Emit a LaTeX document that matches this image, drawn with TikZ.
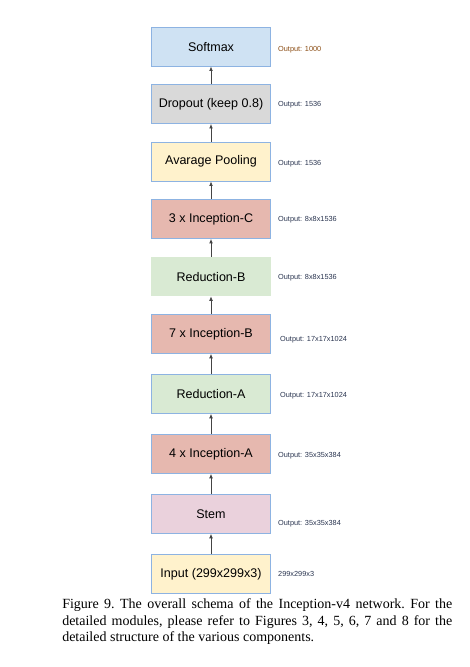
\documentclass[tikz,border=0pt]{standalone}
\usepackage{fontspec}
\setmainfont{Liberation Sans}
\newfontfamily\capfont{Liberation Serif}
\usetikzlibrary{arrows.meta, positioning}

\definecolor{boxline}{HTML}{8DB3E2}
\definecolor{softfill}{HTML}{CFE2F3}
\definecolor{dropfill}{HTML}{D9D9D9}
\definecolor{yellowfill}{HTML}{FFF2CC}
\definecolor{incfill}{HTML}{E6B8AF}
\definecolor{redfill}{HTML}{D9EAD3}
\definecolor{stemfill}{HTML}{EAD1DC}
\definecolor{outtext}{HTML}{2A3550}
\definecolor{browntext}{HTML}{8A4B12}
\definecolor{arrowgray}{HTML}{444444}

\begin{document}
\begin{tikzpicture}[
node distance=13.5pt,
box/.style={draw=boxline, line width=0.6pt, rectangle, align=center, minimum width=88.8pt, minimum height=29pt, inner sep=0pt, font=\fontsize{9.4}{11}\selectfont},
outlabel/.style={right=5.5pt of #1, anchor=west, inner sep=0pt, text=outtext, font=\fontsize{5.5}{6}\selectfont},
arrow/.style={-{Latex[length=3.4pt,width=2.8pt]}, line width=0.6pt, draw=arrowgray}
]

\useasboundingbox (0,0) rectangle (351.75pt,-500.25pt);

% ---------- NETWORK BLOCKS ----------

\node[box, fill=yellowfill] (input) at (158.25pt,-430.5pt)
{Input (299x299x3)};

\node[box, fill=stemfill, above=15.4pt of input] (stem)
{Stem};

\node[box, fill=incfill, above=15.4pt of stem] (incA)
{4 x Inception-A};

\node[box, fill=redfill, above=15.4pt of incA] (redA)
{Reduction-A};

\node[box, fill=incfill, above=15.4pt of redA] (incB)
{7 x Inception-B};

\node[box, fill=redfill, draw=redfill, above=of incB] (redB)
{Reduction-B};

\node[box, fill=incfill, above=of redB] (incC)
{3 x Inception-C};

\node[box, fill=yellowfill, above=of incC] (pool)
{Avarage Pooling};

\node[box, fill=dropfill, above=of pool] (dropout)
{Dropout (keep 0.8)};

\node[box, fill=softfill, above=of dropout] (softmax)
{Softmax};

% ---------- OUTPUT SIZES ----------

\node[outlabel=input] (inputout) {299x299x3};
\node[outlabel=stem, yshift=-7.5pt] (stemout) {Output: 35x35x384};
\node[outlabel=incA, yshift=-1.5pt] (incAout) {Output: 35x35x384};
\node[outlabel=redA, xshift=1.5pt, yshift=-1pt] (redAout) {Output: 17x17x1024};
\node[outlabel=incB, xshift=1.5pt, yshift=-4pt] (incBout) {Output: 17x17x1024};
\node[outlabel=redB, yshift=-1.2pt] (redBout) {Output: 8x8x1536};
\node[outlabel=incC, yshift=-0.5pt] (incCout) {Output: 8x8x1536};
\node[outlabel=pool, yshift=-1.5pt] (poolout) {Output: 1536};
\node[outlabel=dropout, yshift=-0.8pt] (dropoutout) {Output: 1536};
\node[outlabel=softmax, yshift=-2.3pt, text=browntext] (softmaxout) {Output: 1000};

% ---------- CAPTION ----------

\node[anchor=north west, inner sep=0pt, text width=292.5pt, align=justify,
font=\capfont\fontsize{10.5}{12.4}\selectfont\frenchspacing] (caption) at (46.5pt,-449pt)
{Figure 9. The overall schema of the Inception-v4 network. For the\linebreak
detailed modules, please refer to Figures 3, 4, 5, 6, 7 and 8 for the\linebreak
detailed structure of the various components.};

% ---------- ARROWS ----------

\draw[arrow] (input) -- (stem);
\draw[arrow] (stem) -- (incA);
\draw[arrow] (incA) -- (redA);
\draw[arrow] (redA) -- (incB);
\draw[arrow] (incB) -- (redB);
\draw[arrow] (redB) -- (incC);
\draw[arrow] (incC) -- (pool);
\draw[arrow] (pool) -- (dropout);
\draw[arrow] (dropout) -- (softmax);

\end{tikzpicture}
\end{document}
